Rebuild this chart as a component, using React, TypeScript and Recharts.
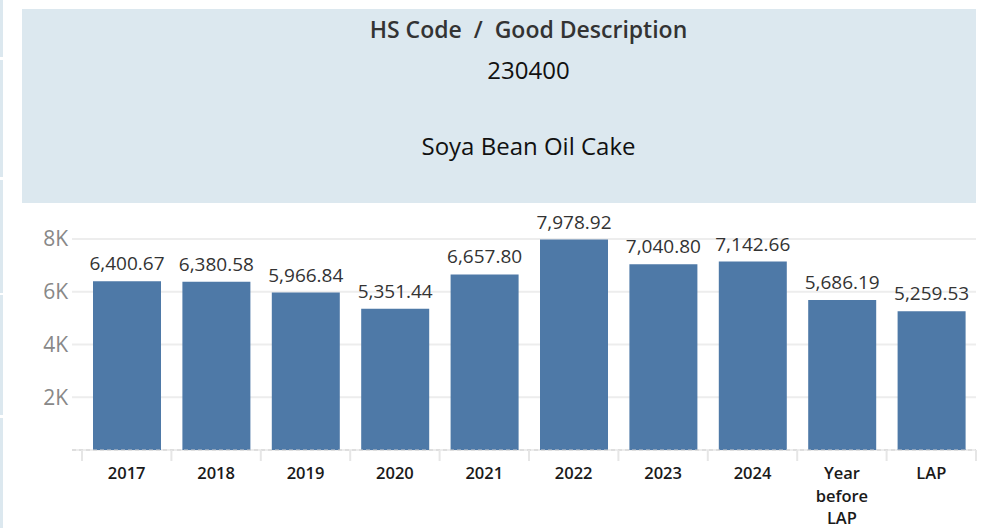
import { Bar, BarChart, CartesianGrid, LabelList, XAxis, YAxis } from "recharts";

// Values (HS 230400, Soya Bean Oil Cake)
const categories = ["2017", "2018", "2019", "2020", "2021", "2022", "2023", "2024", "Year before LAP", "LAP"];
const values = [6400.67, 6380.58, 5966.84, 5351.44, 6657.8, 7978.92, 7040.8, 7142.66, 5686.19, 5259.53];
const yTicks = [2000, 4000, 6000, 8000];

const titleLine = "HS Code  /  Good Description";
const hsCode = "230400";
const goodDescription = "Soya Bean Oil Cake";

const data = categories.map((name, i) => ({ name, value: values[i] }));

const FONT = "'Open Sans', 'Noto Sans', sans-serif";
const BAR = "#4e79a7";
const PANEL = "#dce8ef";

const fmtValue = (v: number) =>
  v.toLocaleString("en-US", { minimumFractionDigits: 2, maximumFractionDigits: 2 });

// category tick: words stacked, plus Tableau-style header dividers at band edges
function CategoryTick(props: any) {
  const { x, y, payload, index, visibleTicksCount } = props;
  const half = payload.offset ?? 0;
  const words = String(payload.value).split(" ");
  return (
    <g>
      <line x1={x - half} x2={x - half} y1={y - 8} y2={y + 3} stroke="#e6e6e6" strokeWidth={2} />
      {index === visibleTicksCount - 1 && (
        <line x1={x + half} x2={x + half} y1={y - 8} y2={y + 3} stroke="#e6e6e6" strokeWidth={2} />
      )}
      <text x={x} y={y + 21} textAnchor="middle" fill="#1a1a1a" fontSize={16.5} fontWeight={600} fontFamily={FONT}>
        {words.map((w, i) => (
          <tspan key={i} x={x} dy={i === 0 ? 0 : 22.5}>
            {w}
          </tspan>
        ))}
      </text>
    </g>
  );
}

const strips = [
  [0, 57],
  [60, 177],
  [180, 293],
  [295, 415],
  [418, 528],
];

export default function App() {
  return (
    <div style={{ position: "absolute", left: 0, top: 0, width: 986, height: 528, background: "#fff", overflow: "hidden" }}>
      {strips.map(([a, b], i) => (
        <div key={i} style={{ position: "absolute", left: 0, top: a, width: 3, height: b - a, background: PANEL }} />
      ))}
      <div style={{ position: "absolute", left: 22, top: 9, width: 954, height: 194, background: PANEL }} />
      <div
        style={{
          position: "absolute",
          left: 228.5,
          top: 9,
          width: 600,
          textAlign: "center",
          fontFamily: FONT,
          fontSize: 24,
          lineHeight: "normal",
        }}
      >
        <div
          style={{
            position: "absolute",
            left: 0,
            right: 0,
            top: 4,
            color: "#333",
            fontWeight: 600,
            fontSize: 23,
            whiteSpace: "pre",
          }}
        >
          {titleLine}
        </div>
        <div style={{ position: "absolute", left: 0, right: 0, top: 44, color: "#111" }}>{hsCode}</div>
        <div style={{ position: "absolute", left: 0, right: 0, top: 120, color: "#111" }}>{goodDescription}</div>
      </div>

      <div style={{ position: "absolute", left: 0, top: 203 }}>
        <BarChart width={986} height={325} data={data} margin={{ top: 36, right: 10, bottom: 0, left: 0 }} barSize={68}>
          <CartesianGrid horizontal vertical={false} stroke="#ededed" strokeWidth={2} />
          <XAxis
            dataKey="name"
            padding={{ left: 10, right: 0 }}
            height={78}
            axisLine={{ stroke: "#cfcfcf", strokeDasharray: "4 3" }}
            tickLine={false}
            interval={0}
            tick={<CategoryTick />}
          />
          <YAxis
            width={72}
            domain={[0, 8000]}
            ticks={yTicks}
            axisLine={false}
            tickLine={false}
            tickSize={4}
            tickMargin={0}
            tickFormatter={(v: number) => `${v / 1000}K`}
            tick={{ fill: "#888", fontSize: 21, fontFamily: FONT }}
          />
          <Bar dataKey="value" fill={BAR} isAnimationActive={false}>
            <LabelList
              dataKey="value"
              position="top"
              offset={11}
              formatter={(v: any) => fmtValue(Number(v))}
              style={{ fill: "#333", fontSize: 19, fontFamily: FONT }}
            />
          </Bar>
        </BarChart>
      </div>
    </div>
  );
}
